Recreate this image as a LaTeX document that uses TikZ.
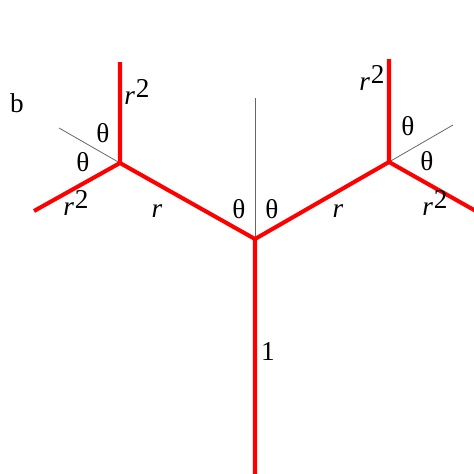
\documentclass[tikz,border=0pt]{standalone}
\usepackage{fontspec}
\setmainfont{Liberation Serif}
\newcommand{\rsq}{\textit{r}\kern0.5pt\raisebox{0.5ex}{2}}
\tikzset{
  branch/.style={draw=red, line width=2.3pt},
  guide/.style={draw=gray!80!black, line width=0.45pt},
  lbl/.style={inner sep=0pt, font=\fontsize{15.5}{18}\selectfont},
}
\begin{document}
\begin{tikzpicture}[x=0.02cm, y=-0.02cm, line join=round]
			\useasboundingbox (0,0) rectangle (474,474);
			\coordinate (base) at (255,480);
			\coordinate (J) at (255,239);
			\coordinate (L) at (120,163);
			\coordinate (R) at (389,162);
			\coordinate (Lup) at (120,62);
			\coordinate (Ldn) at (34,211);
			\coordinate (Rup) at (389,59);
			\coordinate (Rdn) at (490,219);
			\coordinate (Jg) at (255,98);
			\coordinate (Lg) at (59,128);
			\coordinate (Rg) at (453,125);
			\draw[guide] (J) -- (Jg);
			\draw[guide] (L) -- (Lg);
			\draw[guide] (R) -- (Rg);
			\draw[branch] (base) -- (J) -- (L) -- (Lup);
			\draw[branch] (L) -- (Ldn);
			\draw[branch] (J) -- (R) -- (Rup);
			\draw[branch] (R) -- (Rdn);
			\node[lbl] (b) at (17,103) {b};
			\node[lbl] (one) at (268,352) {1};
			\node[lbl] (rl) at (157,211) {\textit{r}};
			\node[lbl] (rr) at (338,211) {\textit{r}};
			\node[lbl] (rlu) at (137,92) {\rsq};
			\node[lbl] (rld) at (76,203) {\rsq};
			\node[lbl] (rru) at (372,78) {\rsq};
			\node[lbl] (rrd) at (435,203) {\rsq};
			\node[lbl] (tl1) at (103,133) {θ};
			\node[lbl] (tl2) at (83,162) {θ};
			\node[lbl] (tj1) at (239,209) {θ};
			\node[lbl] (tj2) at (272,209) {θ};
			\node[lbl] (tr1) at (408,126) {θ};
			\node[lbl] (tr2) at (427,161) {θ};
		\end{tikzpicture}
\end{document}
